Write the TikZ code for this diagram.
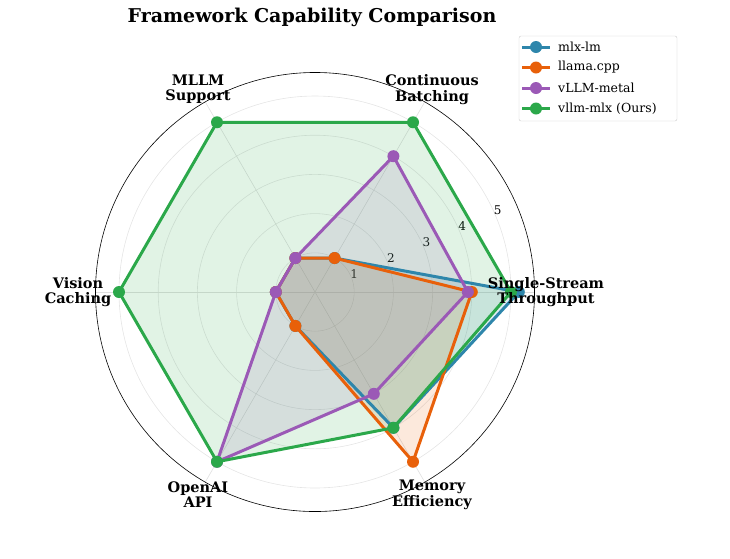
\documentclass[tikz,border=0pt]{standalone}
\usepackage{fontspec}
\setmainfont{DejaVu Serif}
\begin{document}
\begin{tikzpicture}[x=1pt,y=1pt,
  lbl/.style={font=\bfseries\fontsize{14.5}{15.5}\selectfont,align=center},
  tick/.style={font=\fontsize{12}{13}\selectfont},
  series/.style={line width=3pt,line join=round},
  mk/.style={fill=#1,draw=none}]
\definecolor{cb}{HTML}{2E86AB}
\definecolor{co}{HTML}{E8600A}
\definecolor{cp}{HTML}{9B59B6}
\definecolor{cg}{HTML}{2BA84A}
\useasboundingbox (0,0) rectangle (730,-558);
\node[font=\bfseries\fontsize{19}{21}\selectfont] (title) at (312,-17) {Framework Capability Comparison};
\begin{scope}[shift={(315,-292)}]
\def\u{39.2}
\foreach \k in {1,...,5} \draw[gray!20,line width=0.6pt] (0,0) circle ({\k*\u});
\foreach \a in {0,60,...,300} \draw[gray!25,line width=0.6pt] (0,0) -- (\a:{5.6*\u});
\draw[black,line width=0.6pt] (0,0) circle ({5.6*\u});
\foreach \k/\r in {1/43,2/83,3/122,4/161,5/200} \node[tick] (t\k) at (24:\r) {\k};
\foreach \n/\c/\v in {
  b/cb/{5.2,1,1,1,1,4},
  o/co/{4,1,1,1,1,5},
  p/cp/{3.9,4,1,1,5,3},
  g/cg/{5,5,5,5,5,4}}{
  \foreach \x [count=\i from 0] in \v {\coordinate (\n\i) at ({\i*60}:{\x*\u});}
  \fill[\c,opacity=0.14] (\n0)--(\n1)--(\n2)--(\n3)--(\n4)--(\n5)--cycle;
}
\foreach \n/\c in {b/cb,o/co,p/cp,g/cg}{
  \draw[series,\c] (\n0)--(\n1)--(\n2)--(\n3)--(\n4)--(\n5)--cycle;
  \foreach \i in {0,...,5} \fill[\c] (\n\i) circle (6);
}
\node[lbl] (l0) at (0:231) {Single-Stream\\Throughput};
\node[lbl] (l1) at (60:234) {Continuous\\Batching};
\node[lbl] (l2) at (120:234) {MLLM\\Support};
\node[lbl] (l3) at (180:237) {Vision\\Caching};
\node[lbl] (l4) at (240:234) {OpenAI\\API};
\node[lbl] (l5) at (300:234) {Memory\\Efficiency};
\end{scope}
\draw[gray!40,fill=white,rounded corners=2pt] (519,-36) rectangle (677,-121);
\foreach \c/\t [count=\j from 0] in {cb/mlx-lm,co/llama.cpp,cp/vLLM-metal,cg/vllm-mlx (Ours)}{
  \draw[\c,line width=3pt] (522,{-47-\j*20.5}) -- (550,{-47-\j*20.5});
  \fill[\c] (536,{-47-\j*20.5}) circle (6);
  \node[anchor=west,inner sep=0pt,font=\fontsize{12.5}{14}\selectfont] (leg\j) at (558,{-47-\j*20.5}) {\t};
}
\end{tikzpicture}
\end{document}
